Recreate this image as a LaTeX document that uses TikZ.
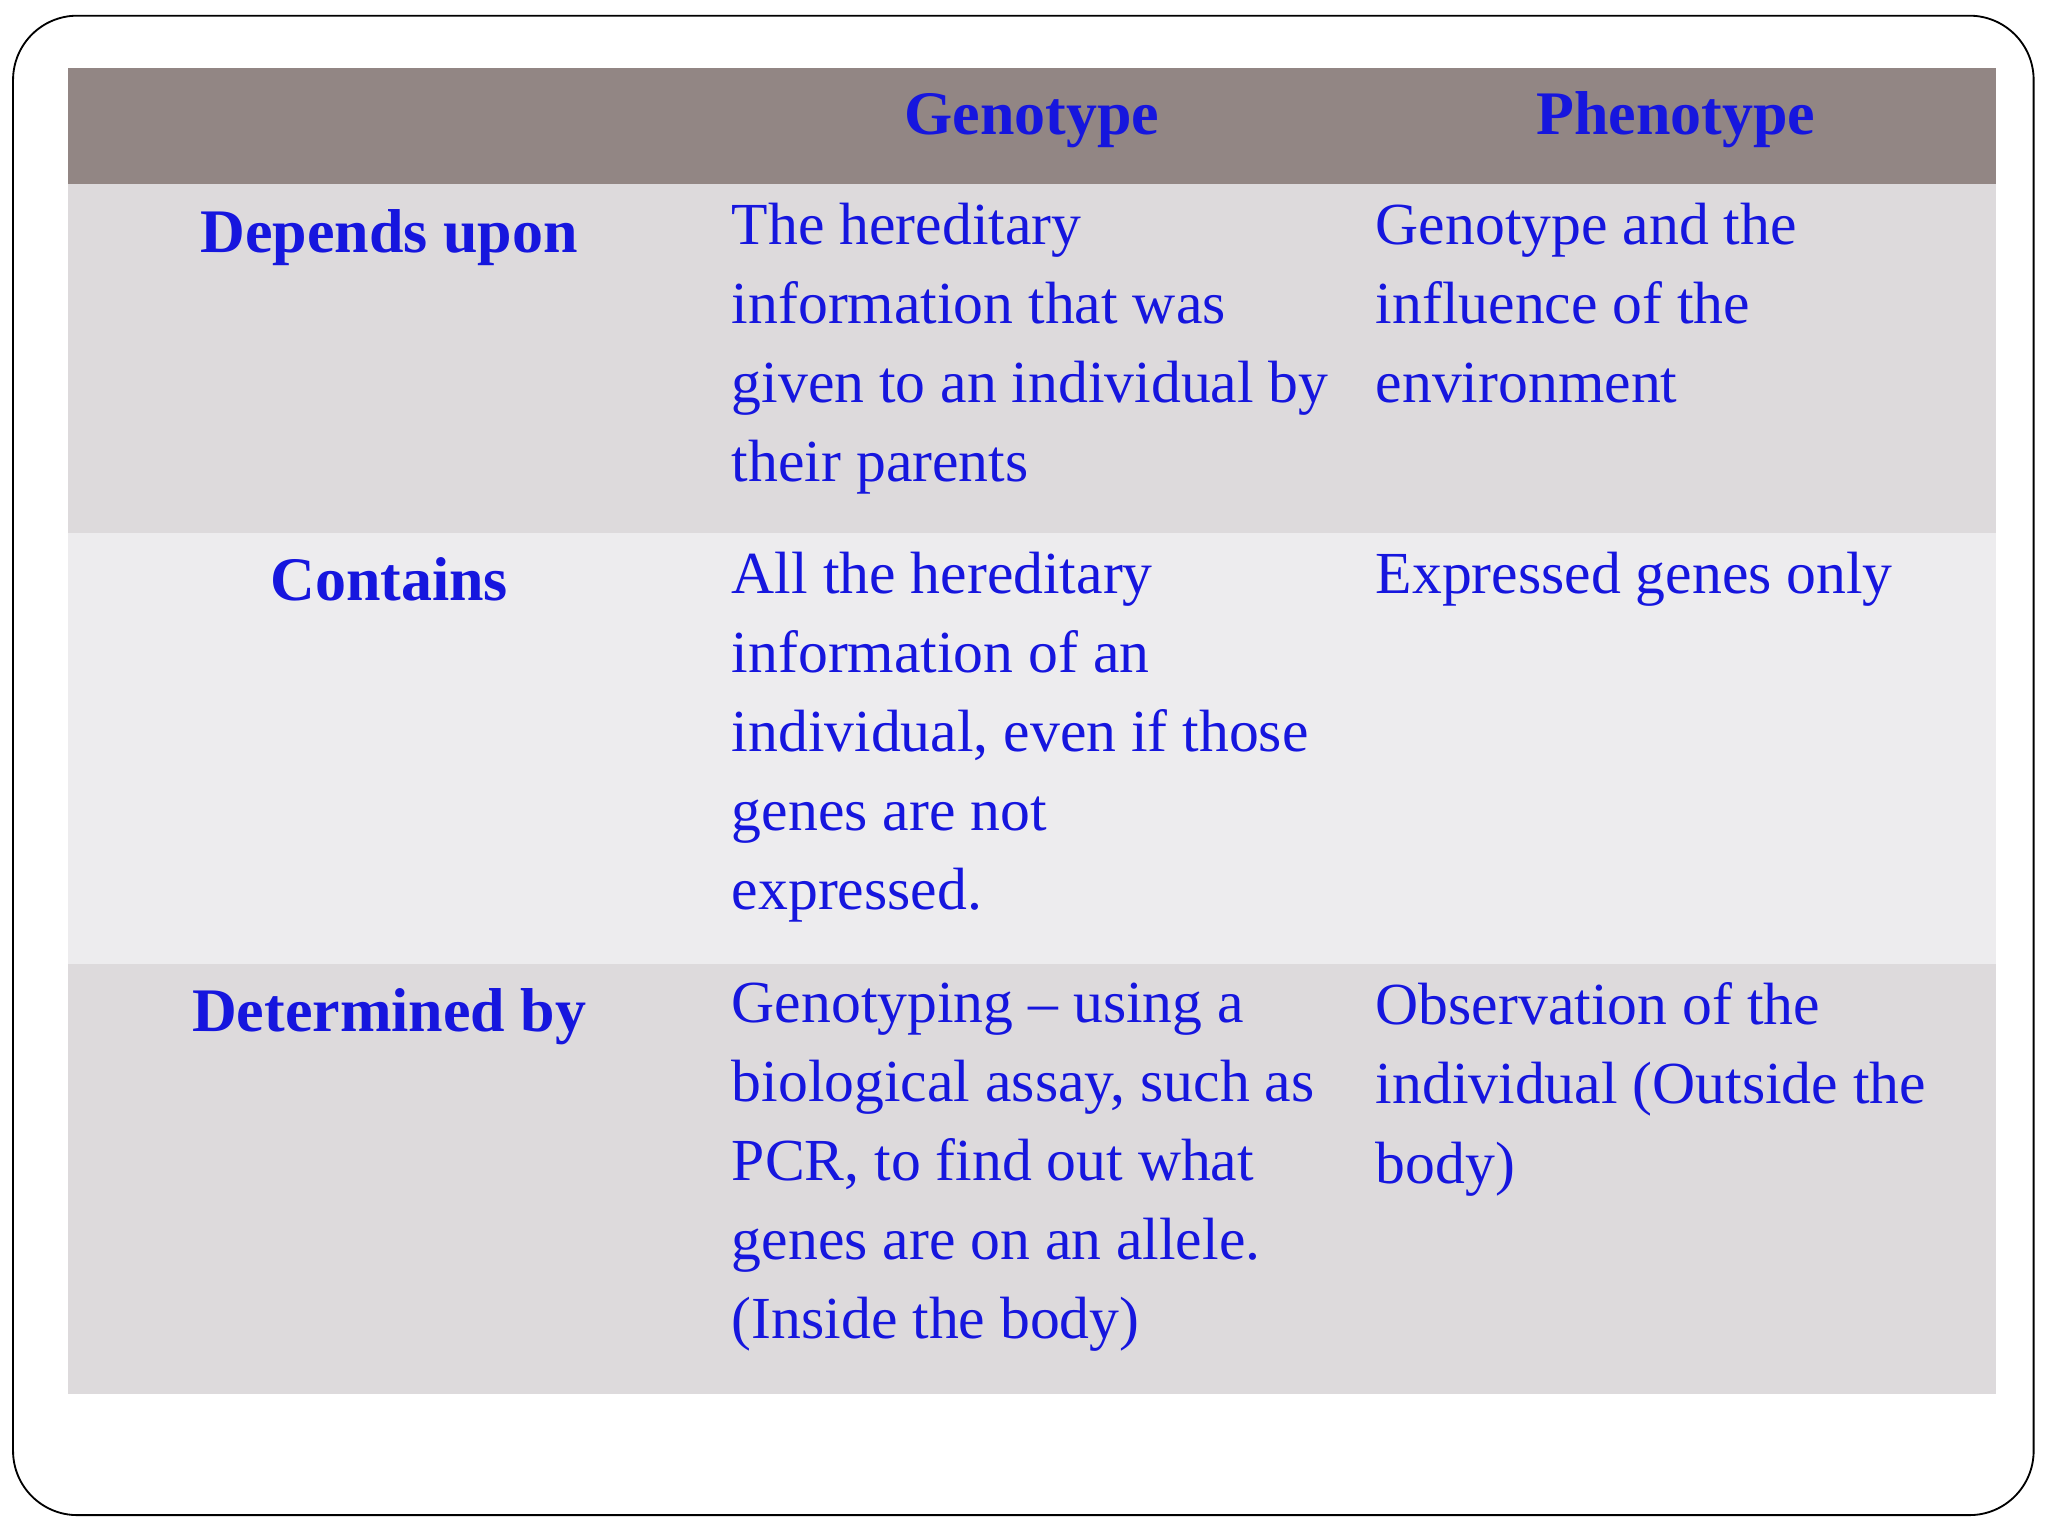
\documentclass[tikz,border=0pt]{standalone}
\usepackage{fontspec}
\setmainfont{Liberation Serif}
\definecolor{hdr}{RGB}{146,134,132}
\definecolor{rowa}{RGB}{221,218,220}
\definecolor{rowb}{RGB}{237,236,238}
\definecolor{txt}{RGB}{22,22,222}
\tikzset{cell/.style={anchor=north west,align=left,inner sep=0pt,text=txt,font=\fontsize{26}{34.5}\selectfont},
 head/.style={anchor=base,align=center,inner sep=0pt,text=txt,font=\fontsize{27}{34.5}\selectfont\bfseries}}
\begin{document}
\begin{tikzpicture}[x=0.02cm,y=-0.02cm]
\useasboundingbox (0,0) rectangle (1568,1176);
\fill[white] (0,0) rectangle (1568,1176);
\draw[line width=0.8pt,rounded corners=28pt] (10,12) rectangle (1557,1160);
\fill[hdr] (52,52) rectangle (1528,141);
\fill[rowa] (52,141) rectangle (1528,408);
\fill[rowb] (52,408) rectangle (1528,738);
\fill[rowa] (52,738) rectangle (1528,1067);
\node[head] (h2) at (790,103) {Genotype};
\node[head] (h3) at (1283,103) {Phenotype};
\node[head] (r1) at (298,193) {Depends upon};
\node[head] (r2) at (298,460) {Contains};
\node[head] (r3) at (298,790) {Determined by};
\node[cell] (c12) at (560,155) {The hereditary\\information that was\\given to an individual by\\their parents};
\node[cell] (c13) at (1053,155) {Genotype and the\\influence of the\\environment};
\node[cell] (c22) at (560,422) {All the hereditary\\information of an\\individual, even if those\\genes are not\\expressed.};
\node[cell] (c23) at (1053,422) {Expressed genes only};
\node[cell] (c32) at (560,752) {Genotyping – using a\\biological assay, such as\\PCR, to find out what\\genes are on an allele.\\(Inside the body)};
\node[cell] (c33) at (1053,752) {Observation of the\\individual (Outside the\\body)};
\end{tikzpicture}
\end{document}
